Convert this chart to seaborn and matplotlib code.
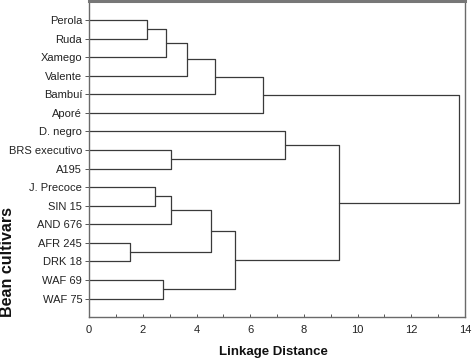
import numpy as np
import pandas as pd
import matplotlib
matplotlib.use("Agg")
import matplotlib.pyplot as plt
from matplotlib.ticker import MultipleLocator
import seaborn as sns

# leaf order, top to bottom
cultivars = ["Perola", "Ruda", "Xamego", "Valente", "Bambuí", "Aporé",
             "D. negro", "BRS executivo", "A195", "J. Precoce", "SIN 15",
             "AND 676", "AFR 245", "DRK 18", "WAF 69", "WAF 75"]

# merges in scipy-linkage style: leaves are 0..15, merge i creates node 16+i
merge_left = [0, 16, 17, 18, 19, 7, 6, 9, 23, 12, 24, 14, 26, 22, 20]
merge_right = [1, 2, 3, 4, 5, 8, 21, 10, 11, 13, 25, 15, 27, 28, 29]
merge_dist = [2.17, 2.88, 3.66, 4.70, 6.46, 3.06, 7.28, 2.46, 3.06, 1.53,
              4.55, 2.76, 5.45, 9.29, 13.78]

x_ticks = [0, 2, 4, 6, 8, 10, 12, 14]

# build the dendrogram "U" segments
n = len(cultivars)
node_x = {i: 0.0 for i in range(n)}
node_y = {i: float(i + 1) for i in range(n)}
rows = []
for k, (a, b, h) in enumerate(zip(merge_left, merge_right, merge_dist)):
    pts = [(node_x[a], node_y[a]), (h, node_y[a]), (h, node_y[b]), (node_x[b], node_y[b])]
    for order, (px, py) in enumerate(pts):
        rows.append({"seg": k, "order": order, "dist": px, "pos": py})
    node_x[n + k] = h
    node_y[n + k] = (node_y[a] + node_y[b]) / 2
segments = pd.DataFrame(rows)

sns.set_style("ticks")
plt.rcParams["font.family"] = ["Liberation Sans", "DejaVu Sans"]

fig = plt.figure(figsize=(4.74, 3.62), dpi=100)
ax = fig.add_axes([0.188, 0.124, 0.793, 0.872])

sns.lineplot(data=segments, x="dist", y="pos", units="seg", estimator=None,
             sort=False, color="#3a3a3a", linewidth=0.9, legend=False, ax=ax)

ax.set_xlim(0, 14)
ax.set_ylim(17, 0)
ax.set_xticks(x_ticks)
ax.xaxis.set_minor_locator(MultipleLocator(1))
ax.set_yticks(np.arange(1, n + 1))
ax.set_yticklabels(cultivars)

ax.tick_params(axis="x", which="both", direction="in", length=2.5, width=0.7,
               color="#555555", labelsize=8, labelcolor="#222222", pad=6)
ax.tick_params(axis="y", direction="out", length=3, width=0.7,
               color="#555555", labelsize=8, labelcolor="#222222", pad=2)

for side in ["left", "bottom", "right"]:
    ax.spines[side].set_visible(True)
    ax.spines[side].set_color("#6a6a6a")
    ax.spines[side].set_linewidth(1.0)
ax.spines["top"].set_visible(True)
ax.spines["top"].set_color("#777777")
ax.spines["top"].set_linewidth(2.2)

ax.set_xlabel("Linkage Distance", fontsize=9.5, fontweight="bold", color="#111111")
ax.xaxis.set_label_coords(0.49, -0.092)
ax.set_ylabel("Bean cultivars", fontsize=11.5, fontweight="bold", color="#111111",
              va="center", ha="left")
ax.yaxis.set_label_coords(-0.218, 0.0)

fig.savefig("out.png", dpi=100)
